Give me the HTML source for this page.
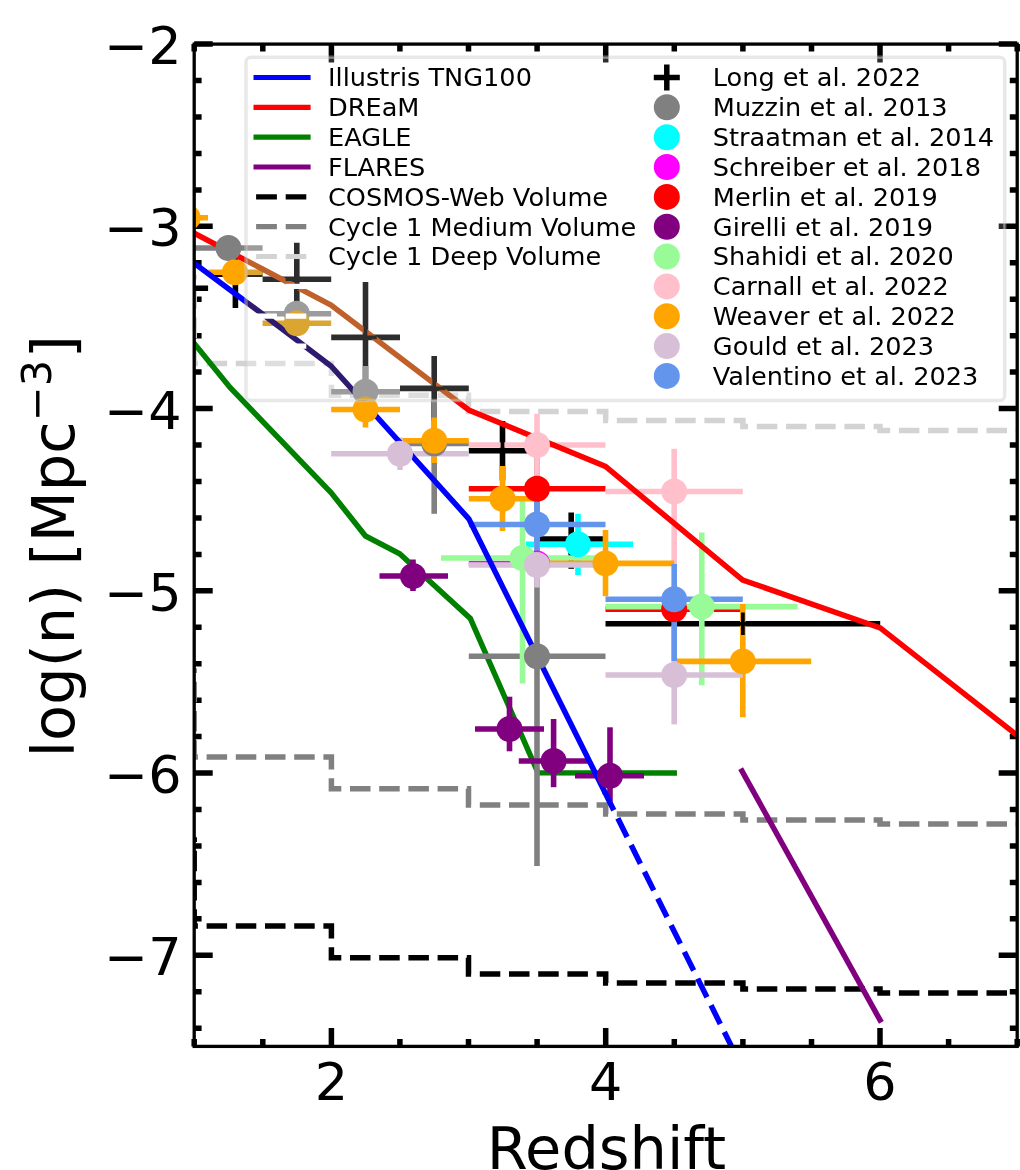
<!DOCTYPE html>
<html><head><meta charset="utf-8"><title>Number density vs redshift</title>
<style>html,body{margin:0;padding:0;background:#fff}svg{display:block}</style></head>
<body>
<svg width="1020" height="1170" viewBox="0 0 1020 1170" font-family="'DejaVu Sans', 'Liberation Sans', sans-serif">
<defs><clipPath id="ax"><rect x="194.2" y="44.1" width="823.0" height="1002.3000000000001"/></clipPath>
<clipPath id="lg"><rect x="246" y="57.2" width="758.7" height="343.2" rx="5"/></clipPath></defs>
<rect width="1020" height="1170" fill="#fff"/>
<path d="M194.2,1046.4v-7.4M194.2,44.1v7.4M262.8,1046.4v-7.4M262.8,44.1v7.4M331.4,1046.4v-18.5M331.4,44.1v18.5M399.9,1046.4v-7.4M399.9,44.1v7.4M468.5,1046.4v-7.4M468.5,44.1v7.4M537.1,1046.4v-7.4M537.1,44.1v7.4M605.7,1046.4v-18.5M605.7,44.1v18.5M674.3,1046.4v-7.4M674.3,44.1v7.4M742.9,1046.4v-7.4M742.9,44.1v7.4M811.5,1046.4v-7.4M811.5,44.1v7.4M880.0,1046.4v-18.5M880.0,44.1v18.5M948.6,1046.4v-7.4M948.6,44.1v7.4M1017.2,1046.4v-7.4M1017.2,44.1v7.4M194.2,44.1h18.5M1017.2,44.1h-18.5M194.2,80.5h7.4M1017.2,80.5h-7.4M194.2,117.0h7.4M1017.2,117.0h-7.4M194.2,153.4h7.4M1017.2,153.4h-7.4M194.2,189.9h7.4M1017.2,189.9h-7.4M194.2,226.3h18.5M1017.2,226.3h-18.5M194.2,262.8h7.4M1017.2,262.8h-7.4M194.2,299.2h7.4M1017.2,299.2h-7.4M194.2,335.7h7.4M1017.2,335.7h-7.4M194.2,372.1h7.4M1017.2,372.1h-7.4M194.2,408.6h18.5M1017.2,408.6h-18.5M194.2,445.0h7.4M1017.2,445.0h-7.4M194.2,481.5h7.4M1017.2,481.5h-7.4M194.2,517.9h7.4M1017.2,517.9h-7.4M194.2,554.4h7.4M1017.2,554.4h-7.4M194.2,590.8h18.5M1017.2,590.8h-18.5M194.2,627.3h7.4M1017.2,627.3h-7.4M194.2,663.7h7.4M1017.2,663.7h-7.4M194.2,700.2h7.4M1017.2,700.2h-7.4M194.2,736.6h7.4M1017.2,736.6h-7.4M194.2,773.0h18.5M1017.2,773.0h-18.5M194.2,809.5h7.4M1017.2,809.5h-7.4M194.2,845.9h7.4M1017.2,845.9h-7.4M194.2,882.4h7.4M1017.2,882.4h-7.4M194.2,918.8h7.4M1017.2,918.8h-7.4M194.2,955.3h18.5M1017.2,955.3h-18.5M194.2,991.7h7.4M1017.2,991.7h-7.4M194.2,1028.2h7.4M1017.2,1028.2h-7.4" stroke="#000" stroke-width="5.5" fill="none"/>
<g clip-path="url(#ax)">
<polyline points="117.4,840.0 194.2,840.0 194.2,926.0 331.4,926.0 331.4,957.8 468.5,957.8 468.5,974.0 605.7,974.0 605.7,983.0 742.9,983.0 742.9,989.0 880.0,989.0 880.0,992.9 1017.2,992.9" fill="none" stroke="#000000" stroke-width="5.5" stroke-linejoin="miter" stroke-dasharray="20.5 8.7" />
<polyline points="117.4,671.0 194.2,671.0 194.2,757.0 331.4,757.0 331.4,788.8 468.5,788.8 468.5,805.0 605.7,805.0 605.7,814.0 742.9,814.0 742.9,820.0 880.0,820.0 880.0,823.9 1017.2,823.9" fill="none" stroke="#808080" stroke-width="5.5" stroke-linejoin="miter" stroke-dasharray="20.5 8.7" />
<polyline points="117.4,277.5 194.2,277.5 194.2,363.5 331.4,363.5 331.4,395.3 468.5,395.3 468.5,411.5 605.7,411.5 605.7,420.5 742.9,420.5 742.9,426.5 880.0,426.5 880.0,430.4 1017.2,430.4" fill="none" stroke="#d3d3d3" stroke-width="5.5" stroke-linejoin="miter" stroke-dasharray="20.5 8.7" />
<polyline points="193.8,343.0 230.0,387.5 331.0,492.5 365.5,536.0 399.7,553.8 470.3,618.5 538.0,772.8 674.2,773.0" fill="none" stroke="#008000" stroke-width="5.5" stroke-linejoin="miter" stroke-linecap="square"/>
<line x1="160.0" y1="288.3" x2="208.1" y2="288.3" stroke="#000000" stroke-width="5.6"/>
<line x1="208.1" y1="274.3" x2="262.6" y2="274.3" stroke="#000000" stroke-width="5.6"/>
<line x1="235.4" y1="241.0" x2="235.4" y2="308.0" stroke="#000000" stroke-width="5.6"/>
<line x1="262.6" y1="279.2" x2="331.2" y2="279.2" stroke="#000000" stroke-width="5.6"/>
<line x1="296.8" y1="242.8" x2="296.8" y2="315.6" stroke="#000000" stroke-width="5.6"/>
<line x1="331.2" y1="337.4" x2="400.0" y2="337.4" stroke="#000000" stroke-width="5.6"/>
<line x1="365.5" y1="282.0" x2="365.5" y2="392.8" stroke="#000000" stroke-width="5.6"/>
<line x1="400.0" y1="388.4" x2="468.8" y2="388.4" stroke="#000000" stroke-width="5.6"/>
<line x1="434.2" y1="356.0" x2="434.2" y2="420.8" stroke="#000000" stroke-width="5.6"/>
<line x1="468.8" y1="450.8" x2="537.0" y2="450.8" stroke="#000000" stroke-width="5.6"/>
<line x1="502.5" y1="421.0" x2="502.5" y2="480.5" stroke="#000000" stroke-width="5.6"/>
<line x1="537.0" y1="539.0" x2="605.5" y2="539.0" stroke="#000000" stroke-width="5.6"/>
<line x1="571.2" y1="512.5" x2="571.2" y2="568.8" stroke="#000000" stroke-width="5.6"/>
<line x1="605.5" y1="623.8" x2="880.2" y2="623.8" stroke="#000000" stroke-width="5.6"/>
<line x1="193.8" y1="248.0" x2="262.6" y2="248.0" stroke="#808080" stroke-width="5.6"/>
<line x1="262.6" y1="313.8" x2="331.2" y2="313.8" stroke="#808080" stroke-width="5.6"/>
<line x1="331.2" y1="391.8" x2="400.0" y2="391.8" stroke="#808080" stroke-width="5.6"/>
<line x1="365.5" y1="366.0" x2="365.5" y2="417.5" stroke="#808080" stroke-width="5.6"/>
<line x1="400.0" y1="443.5" x2="468.8" y2="443.5" stroke="#808080" stroke-width="5.6"/>
<line x1="434.2" y1="400.0" x2="434.2" y2="513.8" stroke="#808080" stroke-width="5.6"/>
<line x1="468.8" y1="656.2" x2="605.5" y2="656.2" stroke="#808080" stroke-width="5.6"/>
<line x1="537.0" y1="446.0" x2="537.0" y2="866.0" stroke="#808080" stroke-width="5.6"/>
<line x1="526.0" y1="544.3" x2="633.0" y2="544.3" stroke="#00ffff" stroke-width="5.6"/>
<line x1="578.0" y1="513.8" x2="578.0" y2="575.0" stroke="#00ffff" stroke-width="5.6"/>
<line x1="468.8" y1="563.5" x2="605.5" y2="563.5" stroke="#ff00ff" stroke-width="5.6"/>
<line x1="468.8" y1="488.8" x2="605.5" y2="488.8" stroke="#ff0000" stroke-width="5.6"/>
<line x1="605.5" y1="609.3" x2="742.8" y2="609.3" stroke="#ff0000" stroke-width="5.6"/>
<line x1="379.5" y1="576.0" x2="448.0" y2="576.0" stroke="#800080" stroke-width="5.6"/>
<line x1="413.0" y1="559.5" x2="413.0" y2="591.0" stroke="#800080" stroke-width="5.6"/>
<line x1="475.0" y1="729.0" x2="544.0" y2="729.0" stroke="#800080" stroke-width="5.6"/>
<line x1="509.5" y1="696.7" x2="509.5" y2="751.3" stroke="#800080" stroke-width="5.6"/>
<line x1="518.8" y1="761.0" x2="588.4" y2="761.0" stroke="#800080" stroke-width="5.6"/>
<line x1="553.6" y1="719.0" x2="553.6" y2="787.2" stroke="#800080" stroke-width="5.6"/>
<line x1="575.0" y1="775.7" x2="644.0" y2="775.7" stroke="#800080" stroke-width="5.6"/>
<line x1="610.0" y1="727.3" x2="610.0" y2="801.6" stroke="#800080" stroke-width="5.6"/>
<line x1="441.0" y1="558.0" x2="605.5" y2="558.0" stroke="#98fb98" stroke-width="5.6"/>
<line x1="522.5" y1="501.0" x2="522.5" y2="683.5" stroke="#98fb98" stroke-width="5.6"/>
<line x1="605.5" y1="606.6" x2="797.6" y2="606.6" stroke="#98fb98" stroke-width="5.6"/>
<line x1="701.8" y1="532.5" x2="701.8" y2="685.2" stroke="#98fb98" stroke-width="5.6"/>
<line x1="468.8" y1="445.0" x2="605.5" y2="445.0" stroke="#ffc0cb" stroke-width="5.6"/>
<line x1="537.0" y1="413.8" x2="537.0" y2="476.0" stroke="#ffc0cb" stroke-width="5.6"/>
<line x1="605.5" y1="491.5" x2="742.8" y2="491.5" stroke="#ffc0cb" stroke-width="5.6"/>
<line x1="674.2" y1="448.8" x2="674.2" y2="563.8" stroke="#ffc0cb" stroke-width="5.6"/>
<line x1="160.0" y1="217.7" x2="208.0" y2="217.7" stroke="#ffa500" stroke-width="5.6"/>
<line x1="208.5" y1="272.2" x2="262.6" y2="272.2" stroke="#ffa500" stroke-width="5.6"/>
<line x1="262.6" y1="323.2" x2="331.2" y2="323.2" stroke="#ffa500" stroke-width="5.6"/>
<line x1="331.2" y1="409.5" x2="400.0" y2="409.5" stroke="#ffa500" stroke-width="5.6"/>
<line x1="365.5" y1="391.5" x2="365.5" y2="427.5" stroke="#ffa500" stroke-width="5.6"/>
<line x1="400.0" y1="440.8" x2="468.8" y2="440.8" stroke="#ffa500" stroke-width="5.6"/>
<line x1="434.2" y1="417.5" x2="434.2" y2="463.0" stroke="#ffa500" stroke-width="5.6"/>
<line x1="468.8" y1="498.8" x2="537.0" y2="498.8" stroke="#ffa500" stroke-width="5.6"/>
<line x1="502.5" y1="466.0" x2="502.5" y2="531.0" stroke="#ffa500" stroke-width="5.6"/>
<line x1="537.0" y1="563.4" x2="674.2" y2="563.4" stroke="#ffa500" stroke-width="5.6"/>
<line x1="605.5" y1="530.0" x2="605.5" y2="596.2" stroke="#ffa500" stroke-width="5.6"/>
<line x1="674.2" y1="661.4" x2="811.2" y2="661.4" stroke="#ffa500" stroke-width="5.6"/>
<line x1="742.8" y1="604.0" x2="742.8" y2="717.2" stroke="#ffa500" stroke-width="5.6"/>
<line x1="331.2" y1="453.8" x2="468.8" y2="453.8" stroke="#d8bfd8" stroke-width="5.6"/>
<line x1="400.0" y1="437.5" x2="400.0" y2="470.0" stroke="#d8bfd8" stroke-width="5.6"/>
<line x1="468.8" y1="565.0" x2="605.5" y2="565.0" stroke="#d8bfd8" stroke-width="5.6"/>
<line x1="537.0" y1="542.5" x2="537.0" y2="587.5" stroke="#d8bfd8" stroke-width="5.6"/>
<line x1="605.5" y1="675.0" x2="742.8" y2="675.0" stroke="#d8bfd8" stroke-width="5.6"/>
<line x1="674.2" y1="625.4" x2="674.2" y2="724.4" stroke="#d8bfd8" stroke-width="5.6"/>
<line x1="468.8" y1="524.5" x2="605.5" y2="524.5" stroke="#6495ed" stroke-width="5.6"/>
<line x1="537.0" y1="494.0" x2="537.0" y2="555.0" stroke="#6495ed" stroke-width="5.6"/>
<line x1="605.5" y1="599.2" x2="742.8" y2="599.2" stroke="#6495ed" stroke-width="5.6"/>
<line x1="674.2" y1="563.8" x2="674.2" y2="661.0" stroke="#6495ed" stroke-width="5.6"/>
<polyline points="193.8,233.0 262.4,269.0 331.0,305.0 468.8,410.0 605.5,466.5 742.7,580.0 880.2,627.9 1017.3,735.5" fill="none" stroke="#ff0000" stroke-width="5.5" stroke-linejoin="miter" stroke-linecap="square"/>
<polyline points="193.8,263.0 262.4,314.0 331.0,366.0 468.8,518.8 605.5,793.5" fill="none" stroke="#0000ff" stroke-width="5.5" stroke-linejoin="miter" />
<polyline points="604.5,791.6 756.4,1096.4" fill="none" stroke="#0000ff" stroke-width="5.5" stroke-linejoin="miter" stroke-dasharray="20.8 9.05" />
<polyline points="742.0,771.0 880.0,1020.0" fill="none" stroke="#800080" stroke-width="5.5" stroke-linejoin="miter" stroke-linecap="square"/>
<path d="M175.8,288.3h22.4M187.0,277.1v22.4" stroke="#000000" stroke-width="3.7" fill="none"/>
<path d="M224.2,274.3h22.4M235.4,263.1v22.4" stroke="#000000" stroke-width="3.7" fill="none"/>
<path d="M285.6,279.2h22.4M296.8,268.0v22.4" stroke="#000000" stroke-width="3.7" fill="none"/>
<path d="M354.3,337.4h22.4M365.5,326.2v22.4" stroke="#000000" stroke-width="3.7" fill="none"/>
<path d="M423.1,388.4h22.4M434.2,377.2v22.4" stroke="#000000" stroke-width="3.7" fill="none"/>
<path d="M491.3,450.8h22.4M502.5,439.6v22.4" stroke="#000000" stroke-width="3.7" fill="none"/>
<path d="M560.0,539.0h22.4M571.2,527.8v22.4" stroke="#000000" stroke-width="3.7" fill="none"/>
<path d="M731.7,623.8h22.4M742.9,612.6v22.4" stroke="#000000" stroke-width="3.7" fill="none"/>
<circle cx="228.4" cy="248.0" r="13.0" fill="#808080"/>
<circle cx="296.8" cy="313.8" r="13.0" fill="#808080"/>
<circle cx="365.5" cy="391.8" r="13.0" fill="#808080"/>
<circle cx="434.2" cy="443.5" r="13.0" fill="#808080"/>
<circle cx="537.0" cy="656.2" r="13.0" fill="#808080"/>
<circle cx="578.0" cy="544.3" r="13.0" fill="#00ffff"/>
<circle cx="537.0" cy="563.5" r="13.0" fill="#ff00ff"/>
<circle cx="537.0" cy="488.8" r="13.0" fill="#ff0000"/>
<circle cx="674.2" cy="609.3" r="13.0" fill="#ff0000"/>
<circle cx="413.0" cy="576.0" r="13.0" fill="#800080"/>
<circle cx="509.5" cy="729.0" r="13.0" fill="#800080"/>
<circle cx="553.6" cy="761.0" r="13.0" fill="#800080"/>
<circle cx="610.0" cy="775.7" r="13.0" fill="#800080"/>
<circle cx="522.5" cy="558.0" r="13.0" fill="#98fb98"/>
<circle cx="701.8" cy="606.6" r="13.0" fill="#98fb98"/>
<circle cx="537.0" cy="445.0" r="13.0" fill="#ffc0cb"/>
<circle cx="674.2" cy="491.5" r="13.0" fill="#ffc0cb"/>
<circle cx="187.6" cy="217.7" r="13.0" fill="#ffa500"/>
<circle cx="234.9" cy="272.2" r="13.0" fill="#ffa500"/>
<circle cx="296.8" cy="323.2" r="13.0" fill="#ffa500"/>
<circle cx="365.5" cy="409.5" r="13.0" fill="#ffa500"/>
<circle cx="434.2" cy="440.8" r="13.0" fill="#ffa500"/>
<circle cx="502.5" cy="498.8" r="13.0" fill="#ffa500"/>
<circle cx="605.5" cy="563.4" r="13.0" fill="#ffa500"/>
<circle cx="742.8" cy="661.4" r="13.0" fill="#ffa500"/>
<circle cx="400.0" cy="453.8" r="13.0" fill="#d8bfd8"/>
<circle cx="537.0" cy="565.0" r="13.0" fill="#d8bfd8"/>
<circle cx="674.2" cy="675.0" r="13.0" fill="#d8bfd8"/>
<circle cx="537.0" cy="524.5" r="13.0" fill="#6495ed"/>
<circle cx="674.2" cy="599.2" r="13.0" fill="#6495ed"/>
</g>
<rect x="194.2" y="44.1" width="823.0" height="1002.3000000000001" fill="none" stroke="#000" stroke-width="3.3"/>
<rect x="246" y="57.2" width="758.7" height="343.2" rx="5" fill="#fff"/>
<g clip-path="url(#lg)"><g clip-path="url(#ax)">
<polyline points="117.4,840.0 194.2,840.0 194.2,926.0 331.4,926.0 331.4,957.8 468.5,957.8 468.5,974.0 605.7,974.0 605.7,983.0 742.9,983.0 742.9,989.0 880.0,989.0 880.0,992.9 1017.2,992.9" fill="none" stroke="#2d2d2d" stroke-width="5.5" stroke-linejoin="miter" stroke-dasharray="20.5 8.7" />
<polyline points="117.4,671.0 194.2,671.0 194.2,757.0 331.4,757.0 331.4,788.8 468.5,788.8 468.5,805.0 605.7,805.0 605.7,814.0 742.9,814.0 742.9,820.0 880.0,820.0 880.0,823.9 1017.2,823.9" fill="none" stroke="#9c9c9c" stroke-width="5.5" stroke-linejoin="miter" stroke-dasharray="20.5 8.7" />
<polyline points="117.4,277.5 194.2,277.5 194.2,363.5 331.4,363.5 331.4,395.3 468.5,395.3 468.5,411.5 605.7,411.5 605.7,420.5 742.9,420.5 742.9,426.5 880.0,426.5 880.0,430.4 1017.2,430.4" fill="none" stroke="#dedede" stroke-width="5.5" stroke-linejoin="miter" stroke-dasharray="20.5 8.7" />
<polyline points="193.8,343.0 230.0,387.5 331.0,492.5 365.5,536.0 399.7,553.8 470.3,618.5 538.0,772.8 674.2,773.0" fill="none" stroke="#2e7d32" stroke-width="5.5" stroke-linejoin="miter" stroke-linecap="square"/>
<line x1="160.0" y1="288.3" x2="208.1" y2="288.3" stroke="#2d2d2d" stroke-width="5.6"/>
<line x1="208.1" y1="274.3" x2="262.6" y2="274.3" stroke="#2d2d2d" stroke-width="5.6"/>
<line x1="235.4" y1="241.0" x2="235.4" y2="308.0" stroke="#2d2d2d" stroke-width="5.6"/>
<line x1="262.6" y1="279.2" x2="331.2" y2="279.2" stroke="#2d2d2d" stroke-width="5.6"/>
<line x1="296.8" y1="242.8" x2="296.8" y2="315.6" stroke="#2d2d2d" stroke-width="5.6"/>
<line x1="331.2" y1="337.4" x2="400.0" y2="337.4" stroke="#2d2d2d" stroke-width="5.6"/>
<line x1="365.5" y1="282.0" x2="365.5" y2="392.8" stroke="#2d2d2d" stroke-width="5.6"/>
<line x1="400.0" y1="388.4" x2="468.8" y2="388.4" stroke="#2d2d2d" stroke-width="5.6"/>
<line x1="434.2" y1="356.0" x2="434.2" y2="420.8" stroke="#2d2d2d" stroke-width="5.6"/>
<line x1="468.8" y1="450.8" x2="537.0" y2="450.8" stroke="#2d2d2d" stroke-width="5.6"/>
<line x1="502.5" y1="421.0" x2="502.5" y2="480.5" stroke="#2d2d2d" stroke-width="5.6"/>
<line x1="537.0" y1="539.0" x2="605.5" y2="539.0" stroke="#2d2d2d" stroke-width="5.6"/>
<line x1="571.2" y1="512.5" x2="571.2" y2="568.8" stroke="#2d2d2d" stroke-width="5.6"/>
<line x1="605.5" y1="623.8" x2="880.2" y2="623.8" stroke="#2d2d2d" stroke-width="5.6"/>
<line x1="193.8" y1="248.0" x2="262.6" y2="248.0" stroke="#9c9c9c" stroke-width="5.6"/>
<line x1="262.6" y1="313.8" x2="331.2" y2="313.8" stroke="#9c9c9c" stroke-width="5.6"/>
<line x1="331.2" y1="391.8" x2="400.0" y2="391.8" stroke="#9c9c9c" stroke-width="5.6"/>
<line x1="365.5" y1="366.0" x2="365.5" y2="417.5" stroke="#9c9c9c" stroke-width="5.6"/>
<line x1="400.0" y1="443.5" x2="468.8" y2="443.5" stroke="#9c9c9c" stroke-width="5.6"/>
<line x1="434.2" y1="400.0" x2="434.2" y2="513.8" stroke="#9c9c9c" stroke-width="5.6"/>
<line x1="468.8" y1="656.2" x2="605.5" y2="656.2" stroke="#9c9c9c" stroke-width="5.6"/>
<line x1="537.0" y1="446.0" x2="537.0" y2="866.0" stroke="#9c9c9c" stroke-width="5.6"/>
<line x1="526.0" y1="544.3" x2="633.0" y2="544.3" stroke="#00ffff" stroke-width="5.6"/>
<line x1="578.0" y1="513.8" x2="578.0" y2="575.0" stroke="#00ffff" stroke-width="5.6"/>
<line x1="468.8" y1="563.5" x2="605.5" y2="563.5" stroke="#ff00ff" stroke-width="5.6"/>
<line x1="468.8" y1="488.8" x2="605.5" y2="488.8" stroke="#c0602a" stroke-width="5.6"/>
<line x1="605.5" y1="609.3" x2="742.8" y2="609.3" stroke="#c0602a" stroke-width="5.6"/>
<line x1="379.5" y1="576.0" x2="448.0" y2="576.0" stroke="#7a2a7a" stroke-width="5.6"/>
<line x1="413.0" y1="559.5" x2="413.0" y2="591.0" stroke="#7a2a7a" stroke-width="5.6"/>
<line x1="475.0" y1="729.0" x2="544.0" y2="729.0" stroke="#7a2a7a" stroke-width="5.6"/>
<line x1="509.5" y1="696.7" x2="509.5" y2="751.3" stroke="#7a2a7a" stroke-width="5.6"/>
<line x1="518.8" y1="761.0" x2="588.4" y2="761.0" stroke="#7a2a7a" stroke-width="5.6"/>
<line x1="553.6" y1="719.0" x2="553.6" y2="787.2" stroke="#7a2a7a" stroke-width="5.6"/>
<line x1="575.0" y1="775.7" x2="644.0" y2="775.7" stroke="#7a2a7a" stroke-width="5.6"/>
<line x1="610.0" y1="727.3" x2="610.0" y2="801.6" stroke="#7a2a7a" stroke-width="5.6"/>
<line x1="441.0" y1="558.0" x2="605.5" y2="558.0" stroke="#98fb98" stroke-width="5.6"/>
<line x1="522.5" y1="501.0" x2="522.5" y2="683.5" stroke="#98fb98" stroke-width="5.6"/>
<line x1="605.5" y1="606.6" x2="797.6" y2="606.6" stroke="#98fb98" stroke-width="5.6"/>
<line x1="701.8" y1="532.5" x2="701.8" y2="685.2" stroke="#98fb98" stroke-width="5.6"/>
<line x1="468.8" y1="445.0" x2="605.5" y2="445.0" stroke="#ffc0cb" stroke-width="5.6"/>
<line x1="537.0" y1="413.8" x2="537.0" y2="476.0" stroke="#ffc0cb" stroke-width="5.6"/>
<line x1="605.5" y1="491.5" x2="742.8" y2="491.5" stroke="#ffc0cb" stroke-width="5.6"/>
<line x1="674.2" y1="448.8" x2="674.2" y2="563.8" stroke="#ffc0cb" stroke-width="5.6"/>
<line x1="160.0" y1="217.7" x2="208.0" y2="217.7" stroke="#daa530" stroke-width="5.6"/>
<line x1="208.5" y1="272.2" x2="262.6" y2="272.2" stroke="#daa530" stroke-width="5.6"/>
<line x1="262.6" y1="323.2" x2="331.2" y2="323.2" stroke="#daa530" stroke-width="5.6"/>
<line x1="331.2" y1="409.5" x2="400.0" y2="409.5" stroke="#daa530" stroke-width="5.6"/>
<line x1="365.5" y1="391.5" x2="365.5" y2="427.5" stroke="#daa530" stroke-width="5.6"/>
<line x1="400.0" y1="440.8" x2="468.8" y2="440.8" stroke="#daa530" stroke-width="5.6"/>
<line x1="434.2" y1="417.5" x2="434.2" y2="463.0" stroke="#daa530" stroke-width="5.6"/>
<line x1="468.8" y1="498.8" x2="537.0" y2="498.8" stroke="#daa530" stroke-width="5.6"/>
<line x1="502.5" y1="466.0" x2="502.5" y2="531.0" stroke="#daa530" stroke-width="5.6"/>
<line x1="537.0" y1="563.4" x2="674.2" y2="563.4" stroke="#daa530" stroke-width="5.6"/>
<line x1="605.5" y1="530.0" x2="605.5" y2="596.2" stroke="#daa530" stroke-width="5.6"/>
<line x1="674.2" y1="661.4" x2="811.2" y2="661.4" stroke="#daa530" stroke-width="5.6"/>
<line x1="742.8" y1="604.0" x2="742.8" y2="717.2" stroke="#daa530" stroke-width="5.6"/>
<line x1="331.2" y1="453.8" x2="468.8" y2="453.8" stroke="#d8bfd8" stroke-width="5.6"/>
<line x1="400.0" y1="437.5" x2="400.0" y2="470.0" stroke="#d8bfd8" stroke-width="5.6"/>
<line x1="468.8" y1="565.0" x2="605.5" y2="565.0" stroke="#d8bfd8" stroke-width="5.6"/>
<line x1="537.0" y1="542.5" x2="537.0" y2="587.5" stroke="#d8bfd8" stroke-width="5.6"/>
<line x1="605.5" y1="675.0" x2="742.8" y2="675.0" stroke="#d8bfd8" stroke-width="5.6"/>
<line x1="674.2" y1="625.4" x2="674.2" y2="724.4" stroke="#d8bfd8" stroke-width="5.6"/>
<line x1="468.8" y1="524.5" x2="605.5" y2="524.5" stroke="#6495ed" stroke-width="5.6"/>
<line x1="537.0" y1="494.0" x2="537.0" y2="555.0" stroke="#6495ed" stroke-width="5.6"/>
<line x1="605.5" y1="599.2" x2="742.8" y2="599.2" stroke="#6495ed" stroke-width="5.6"/>
<line x1="674.2" y1="563.8" x2="674.2" y2="661.0" stroke="#6495ed" stroke-width="5.6"/>
<polyline points="193.8,233.0 262.4,269.0 331.0,305.0 468.8,410.0 605.5,466.5 742.7,580.0 880.2,627.9 1017.3,735.5" fill="none" stroke="#c0602a" stroke-width="5.5" stroke-linejoin="miter" stroke-linecap="square"/>
<polyline points="193.8,263.0 262.4,314.0 331.0,366.0 468.8,518.8 605.5,793.5" fill="none" stroke="#2e1a6e" stroke-width="5.5" stroke-linejoin="miter" />
<polyline points="604.5,791.6 756.4,1096.4" fill="none" stroke="#2e1a6e" stroke-width="5.5" stroke-linejoin="miter" stroke-dasharray="20.8 9.05" />
<polyline points="742.0,771.0 880.0,1020.0" fill="none" stroke="#7a2a7a" stroke-width="5.5" stroke-linejoin="miter" stroke-linecap="square"/>
<path d="M175.8,288.3h22.4M187.0,277.1v22.4" stroke="#2d2d2d" stroke-width="3.7" fill="none"/>
<path d="M224.2,274.3h22.4M235.4,263.1v22.4" stroke="#2d2d2d" stroke-width="3.7" fill="none"/>
<path d="M285.6,279.2h22.4M296.8,268.0v22.4" stroke="#2d2d2d" stroke-width="3.7" fill="none"/>
<path d="M354.3,337.4h22.4M365.5,326.2v22.4" stroke="#2d2d2d" stroke-width="3.7" fill="none"/>
<path d="M423.1,388.4h22.4M434.2,377.2v22.4" stroke="#2d2d2d" stroke-width="3.7" fill="none"/>
<path d="M491.3,450.8h22.4M502.5,439.6v22.4" stroke="#2d2d2d" stroke-width="3.7" fill="none"/>
<path d="M560.0,539.0h22.4M571.2,527.8v22.4" stroke="#2d2d2d" stroke-width="3.7" fill="none"/>
<path d="M731.7,623.8h22.4M742.9,612.6v22.4" stroke="#2d2d2d" stroke-width="3.7" fill="none"/>
<circle cx="228.4" cy="248.0" r="13.0" fill="#9c9c9c"/>
<circle cx="296.8" cy="313.8" r="13.0" fill="#9c9c9c"/>
<circle cx="365.5" cy="391.8" r="13.0" fill="#9c9c9c"/>
<circle cx="434.2" cy="443.5" r="13.0" fill="#9c9c9c"/>
<circle cx="537.0" cy="656.2" r="13.0" fill="#9c9c9c"/>
<circle cx="578.0" cy="544.3" r="13.0" fill="#00ffff"/>
<circle cx="537.0" cy="563.5" r="13.0" fill="#ff00ff"/>
<circle cx="537.0" cy="488.8" r="13.0" fill="#c0602a"/>
<circle cx="674.2" cy="609.3" r="13.0" fill="#c0602a"/>
<circle cx="413.0" cy="576.0" r="13.0" fill="#7a2a7a"/>
<circle cx="509.5" cy="729.0" r="13.0" fill="#7a2a7a"/>
<circle cx="553.6" cy="761.0" r="13.0" fill="#7a2a7a"/>
<circle cx="610.0" cy="775.7" r="13.0" fill="#7a2a7a"/>
<circle cx="522.5" cy="558.0" r="13.0" fill="#98fb98"/>
<circle cx="701.8" cy="606.6" r="13.0" fill="#98fb98"/>
<circle cx="537.0" cy="445.0" r="13.0" fill="#ffc0cb"/>
<circle cx="674.2" cy="491.5" r="13.0" fill="#ffc0cb"/>
<circle cx="187.6" cy="217.7" r="13.0" fill="#daa530"/>
<circle cx="234.9" cy="272.2" r="13.0" fill="#daa530"/>
<circle cx="296.8" cy="323.2" r="13.0" fill="#daa530"/>
<circle cx="365.5" cy="409.5" r="13.0" fill="#daa530"/>
<circle cx="434.2" cy="440.8" r="13.0" fill="#daa530"/>
<circle cx="502.5" cy="498.8" r="13.0" fill="#daa530"/>
<circle cx="605.5" cy="563.4" r="13.0" fill="#daa530"/>
<circle cx="742.8" cy="661.4" r="13.0" fill="#daa530"/>
<circle cx="400.0" cy="453.8" r="13.0" fill="#d8bfd8"/>
<circle cx="537.0" cy="565.0" r="13.0" fill="#d8bfd8"/>
<circle cx="674.2" cy="675.0" r="13.0" fill="#d8bfd8"/>
<circle cx="537.0" cy="524.5" r="13.0" fill="#6495ed"/>
<circle cx="674.2" cy="599.2" r="13.0" fill="#6495ed"/>
</g>
<path d="M194.2,1046.4v-7.4M194.2,44.1v7.4M262.8,1046.4v-7.4M262.8,44.1v7.4M331.4,1046.4v-18.5M331.4,44.1v18.5M399.9,1046.4v-7.4M399.9,44.1v7.4M468.5,1046.4v-7.4M468.5,44.1v7.4M537.1,1046.4v-7.4M537.1,44.1v7.4M605.7,1046.4v-18.5M605.7,44.1v18.5M674.3,1046.4v-7.4M674.3,44.1v7.4M742.9,1046.4v-7.4M742.9,44.1v7.4M811.5,1046.4v-7.4M811.5,44.1v7.4M880.0,1046.4v-18.5M880.0,44.1v18.5M948.6,1046.4v-7.4M948.6,44.1v7.4M1017.2,1046.4v-7.4M1017.2,44.1v7.4M194.2,44.1h18.5M1017.2,44.1h-18.5M194.2,80.5h7.4M1017.2,80.5h-7.4M194.2,117.0h7.4M1017.2,117.0h-7.4M194.2,153.4h7.4M1017.2,153.4h-7.4M194.2,189.9h7.4M1017.2,189.9h-7.4M194.2,226.3h18.5M1017.2,226.3h-18.5M194.2,262.8h7.4M1017.2,262.8h-7.4M194.2,299.2h7.4M1017.2,299.2h-7.4M194.2,335.7h7.4M1017.2,335.7h-7.4M194.2,372.1h7.4M1017.2,372.1h-7.4M194.2,408.6h18.5M1017.2,408.6h-18.5M194.2,445.0h7.4M1017.2,445.0h-7.4M194.2,481.5h7.4M1017.2,481.5h-7.4M194.2,517.9h7.4M1017.2,517.9h-7.4M194.2,554.4h7.4M1017.2,554.4h-7.4M194.2,590.8h18.5M1017.2,590.8h-18.5M194.2,627.3h7.4M1017.2,627.3h-7.4M194.2,663.7h7.4M1017.2,663.7h-7.4M194.2,700.2h7.4M1017.2,700.2h-7.4M194.2,736.6h7.4M1017.2,736.6h-7.4M194.2,773.0h18.5M1017.2,773.0h-18.5M194.2,809.5h7.4M1017.2,809.5h-7.4M194.2,845.9h7.4M1017.2,845.9h-7.4M194.2,882.4h7.4M1017.2,882.4h-7.4M194.2,918.8h7.4M1017.2,918.8h-7.4M194.2,955.3h18.5M1017.2,955.3h-18.5M194.2,991.7h7.4M1017.2,991.7h-7.4M194.2,1028.2h7.4M1017.2,1028.2h-7.4" stroke="#2d2d2d" stroke-width="5.5" fill="none"/>
</g>
<rect x="246" y="57.2" width="758.7" height="343.2" rx="5" fill="none" stroke="#cccccc" stroke-opacity="0.45" stroke-width="3.5"/>
<line x1="253.5" y1="77.5" x2="310.6" y2="77.5" stroke="#0000ff" stroke-width="5.2"/>
<text x="328.0" y="86.3" font-size="25.6">Illustris TNG100</text>
<line x1="253.5" y1="107.3" x2="310.6" y2="107.3" stroke="#ff0000" stroke-width="5.2"/>
<text x="328.0" y="116.1" font-size="25.6">DREaM</text>
<line x1="253.5" y1="137.2" x2="310.6" y2="137.2" stroke="#008000" stroke-width="5.2"/>
<text x="328.0" y="146.0" font-size="25.6">EAGLE</text>
<line x1="253.5" y1="167.0" x2="310.6" y2="167.0" stroke="#800080" stroke-width="5.2"/>
<text x="328.0" y="175.8" font-size="25.6">FLARES</text>
<path d="M256.1,196.9h20.8M285.7,196.9h20.6" stroke="#000000" stroke-width="5.2"/>
<text x="328.0" y="205.7" font-size="25.6">COSMOS-Web Volume</text>
<path d="M256.1,226.7h20.8M285.7,226.7h20.6" stroke="#808080" stroke-width="5.2"/>
<text x="328.0" y="235.5" font-size="25.6">Cycle 1 Medium Volume</text>
<path d="M256.1,256.5h20.8M285.7,256.5h20.6" stroke="#d3d3d3" stroke-width="5.2"/>
<text x="328.0" y="265.3" font-size="25.6">Cycle 1 Deep Volume</text>
<path d="M256.1,286.4h20.8M285.7,286.4h20.6" stroke="#fff" stroke-width="5.2"/>
<path d="M256.1,316.2h20.8M285.7,316.2h20.6" stroke="#fff" stroke-width="5.2"/>
<path d="M256.1,346.1h20.8M285.7,346.1h20.6" stroke="#fff" stroke-width="5.2"/>
<path d="M653.8,77.5h26M666.8,64.5v26" stroke="#000" stroke-width="5.5"/>
<text x="712.8" y="86.3" font-size="25.6">Long et al. 2022</text>
<circle cx="666.8" cy="107.3" r="13" fill="#808080"/>
<text x="712.8" y="116.1" font-size="25.6">Muzzin et al. 2013</text>
<circle cx="666.8" cy="137.2" r="13" fill="#00ffff"/>
<text x="712.8" y="146.0" font-size="25.6">Straatman et al. 2014</text>
<circle cx="666.8" cy="167.0" r="13" fill="#ff00ff"/>
<text x="712.8" y="175.8" font-size="25.6">Schreiber et al. 2018</text>
<circle cx="666.8" cy="196.9" r="13" fill="#ff0000"/>
<text x="712.8" y="205.7" font-size="25.6">Merlin et al. 2019</text>
<circle cx="666.8" cy="226.7" r="13" fill="#800080"/>
<text x="712.8" y="235.5" font-size="25.6">Girelli et al. 2019</text>
<circle cx="666.8" cy="256.5" r="13" fill="#98fb98"/>
<text x="712.8" y="265.3" font-size="25.6">Shahidi et al. 2020</text>
<circle cx="666.8" cy="286.4" r="13" fill="#ffc0cb"/>
<text x="712.8" y="295.2" font-size="25.6">Carnall et al. 2022</text>
<circle cx="666.8" cy="316.2" r="13" fill="#ffa500"/>
<text x="712.8" y="325.0" font-size="25.6">Weaver et al. 2022</text>
<circle cx="666.8" cy="346.1" r="13" fill="#d8bfd8"/>
<text x="712.8" y="354.9" font-size="25.6">Gould et al. 2023</text>
<circle cx="666.8" cy="375.9" r="13" fill="#6495ed"/>
<text x="712.8" y="384.7" font-size="25.6">Valentino et al. 2023</text>
<text x="181.5" y="64.1" font-size="52.4" text-anchor="end">−2</text>
<text x="181.5" y="246.3" font-size="52.4" text-anchor="end">−3</text>
<text x="181.5" y="428.6" font-size="52.4" text-anchor="end">−4</text>
<text x="181.5" y="610.8" font-size="52.4" text-anchor="end">−5</text>
<text x="181.5" y="793.0" font-size="52.4" text-anchor="end">−6</text>
<text x="181.5" y="975.3" font-size="52.4" text-anchor="end">−7</text>
<text x="331.4" y="1099.6" font-size="52.4" text-anchor="middle">2</text>
<text x="605.7" y="1099.6" font-size="52.4" text-anchor="middle">4</text>
<text x="880.0" y="1099.6" font-size="52.4" text-anchor="middle">6</text>
<text x="606.5" y="1168.6" font-size="59" text-anchor="middle">Redshift</text>
<text transform="translate(74.0,757.3) rotate(-90)" font-size="59"><tspan x="0" y="0">log(n) [Mpc</tspan><tspan x="336.3" y="-23" font-size="41.5">−3</tspan><tspan x="399.1" y="0">]</tspan></text>
</svg>
</body></html>
